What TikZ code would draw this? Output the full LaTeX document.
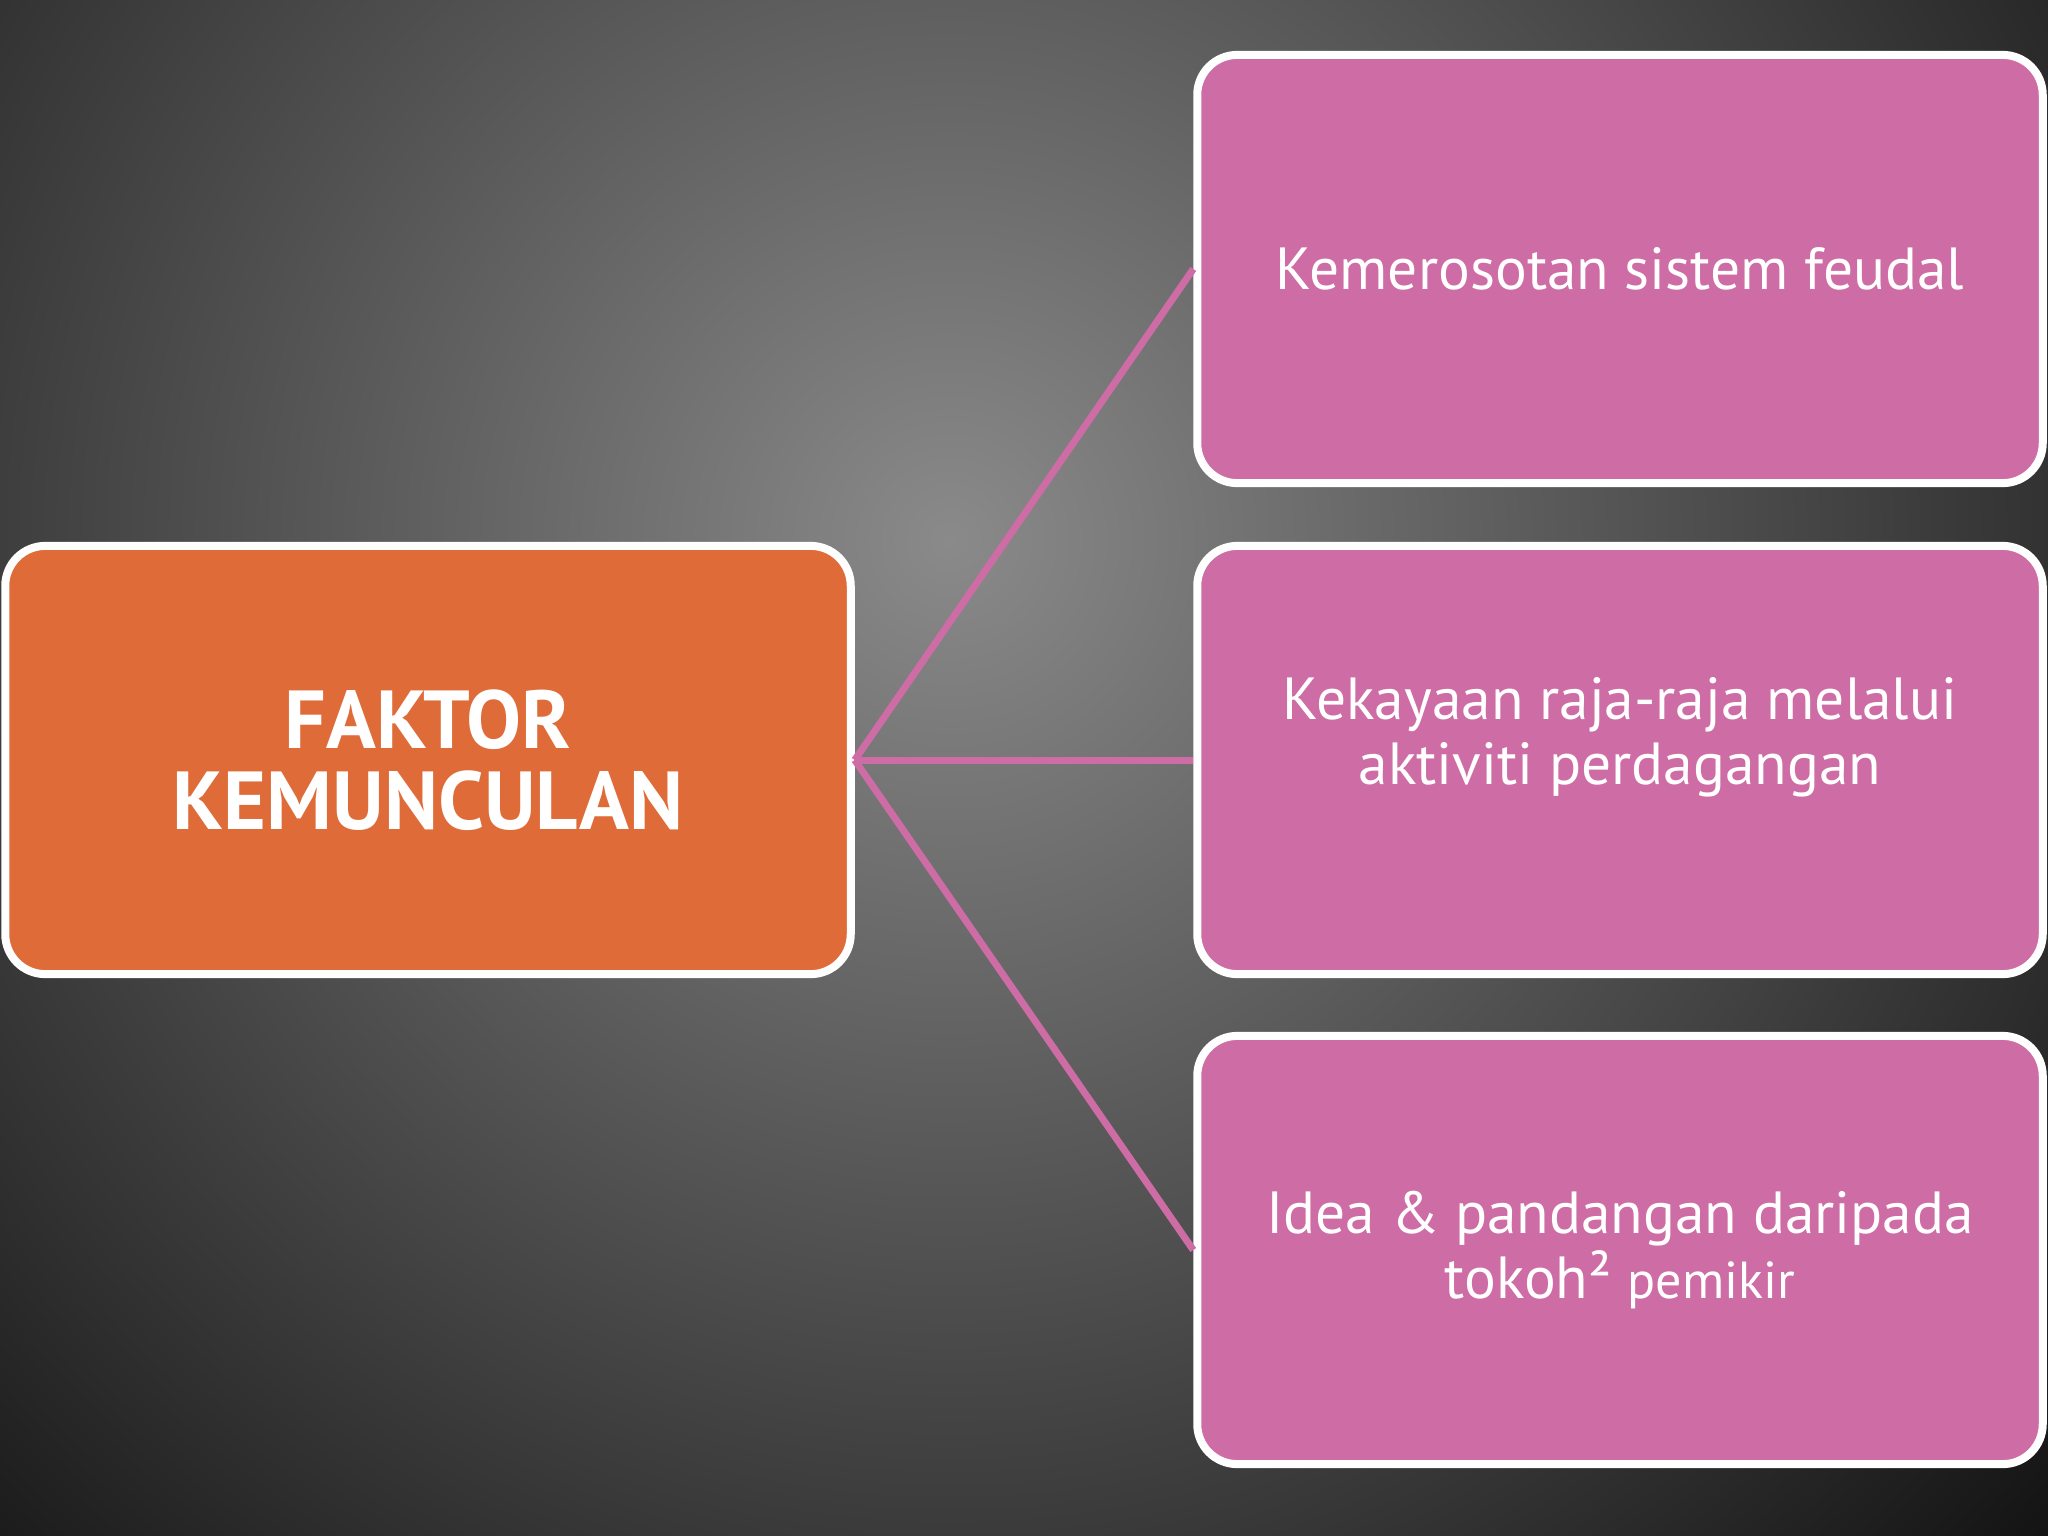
\documentclass[tikz,border=0pt]{standalone}
\usepackage{fontspec}
\setmainfont{PT Sans}
\definecolor{faktororange}{HTML}{DF6B38}
\definecolor{faktorpink}{HTML}{CE6CA5}
\definecolor{bgcentre}{HTML}{8A8A8A}
\definecolor{bgedge}{HTML}{121212}
\begin{document}
\begin{tikzpicture}
  [x=0.01cm,y=-0.01cm,
   every node/.style={rectangle,rounded corners=0.4cm,draw=white,line width=0.8mm,
     minimum width=8.45cm,minimum height=4.28cm,text=white,align=center},
   mainbox/.style={fill=faktororange,font=\fontsize{23.4}{23}\selectfont\bfseries},
   subbox/.style={fill=faktorpink,font=\fontsize{16.9}{18.5}\selectfont}]
  \useasboundingbox (0,0) rectangle (2048,1536);
  \begin{scope}
    \clip (0,0) rectangle (2048,1536);
    \fill[bgedge] (0,0) rectangle (2048,1536);
    \shade[inner color=bgcentre,outer color=bgedge] (950,540) circle (1500);
  \end{scope}
  \node[mainbox] (faktor) at (428,760) {FAKTOR\\KEMUNCULAN};
  \node[subbox] (feudal) at (1620,269) {Kemerosotan sistem feudal};
  \node[subbox,text depth=5.8mm] (kekayaan) at (1620,760) {Kekayaan raja-raja melalui\\aktiviti perdagangan};
  \node[subbox] (idea) at (1620,1250) {Idea \& pandangan daripada\\tokoh² {\fontsize{14.8}{18.5}\selectfont pemikir}};
  \foreach \to in {feudal,kekayaan,idea}
    \draw[faktorpink,line width=0.7mm] (faktor.east) -- (\to.west);

\end{tikzpicture}
\end{document}
